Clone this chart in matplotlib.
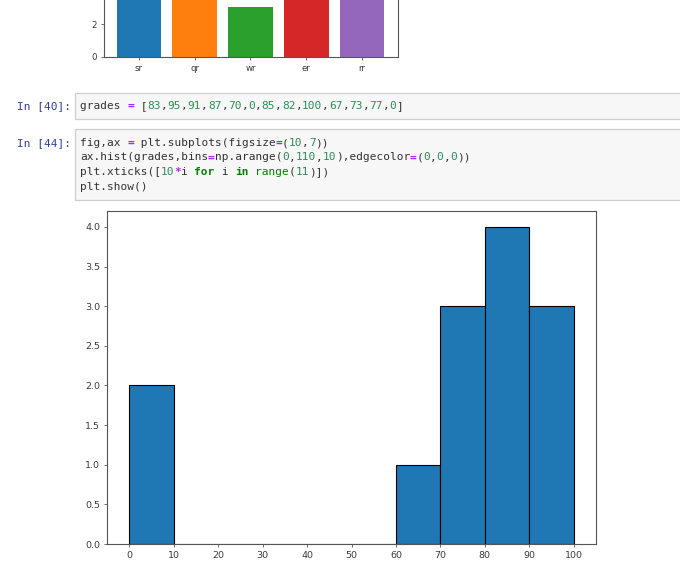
import numpy as np
import matplotlib
matplotlib.use("Agg")
import matplotlib.pyplot as plt
from matplotlib.patches import Rectangle

W, H = 680, 567

# top chart, cut off by the edge of the screenshot
names = ["sr", "qr", "wr", "er", "rr"]
heights = [4, 4, 3, 4, 4]
colors = ["#1f77b4", "#ff7f0e", "#2ca02c", "#d62728", "#9467bd"]

grades = [83, 95, 91, 87, 70, 0, 85, 82, 100, 67, 73, 77, 0]
bins = np.arange(0, 110, 10)

NORMAL = "#333333"
NUM = "#2e8b57"
OP = "#aa22ff"
KW = "#008000"

# notebook code, one list of (text, colour) per line
code_40 = [[("grades ", NORMAL), ("=", OP), (" [", NORMAL), ("83", NUM), (",", NORMAL), ("95", NUM), (",", NORMAL),
            ("91", NUM), (",", NORMAL), ("87", NUM), (",", NORMAL), ("70", NUM), (",", NORMAL), ("0", NUM), (",", NORMAL),
            ("85", NUM), (",", NORMAL), ("82", NUM), (",", NORMAL), ("100", NUM), (",", NORMAL), ("67", NUM), (",", NORMAL),
            ("73", NUM), (",", NORMAL), ("77", NUM), (",", NORMAL), ("0", NUM), ("]", NORMAL)]]
code_44 = [
    [("fig,ax ", NORMAL), ("=", OP), (" plt.subplots(figsize", NORMAL), ("=", OP), ("(", NORMAL), ("10", NUM),
     (",", NORMAL), ("7", NUM), ("))", NORMAL)],
    [("ax.hist(grades,bins", NORMAL), ("=", OP), ("np.arange(", NORMAL), ("0", NUM), (",", NORMAL), ("110", NUM),
     (",", NORMAL), ("10", NUM), ("),edgecolor", NORMAL), ("=", OP), ("(", NORMAL), ("0", NUM), (",", NORMAL), ("0", NUM),
     (",", NORMAL), ("0", NUM), ("))", NORMAL)],
    [("plt.xticks([", NORMAL), ("10", NUM), ("*", OP), ("i ", NORMAL), ("for", KW), (" i ", NORMAL), ("in", KW), (" ", NORMAL),
     ("range", KW), ("(", NORMAL), ("11", NUM), (")])", NORMAL)],
    [("plt.show()", NORMAL)],
]


def px_axes(fig, left, top, right, bottom):
    return fig.add_axes([left / W, 1 - bottom / H, (right - left) / W, (bottom - top) / H])


def draw_code(lines, y0):
    char_w = 6.73
    for n, line in enumerate(lines):
        col = 0
        for txt, c in line:
            bold = txt in ("for", "in", "=", "*")
            fig.text((80 + col * char_w) / W, 1 - (y0 + n * 14.5) / H, txt, color=c, family="DejaVu Sans Mono",
                     fontsize=8, va="center", ha="left", fontweight="bold" if bold else "normal")
            col += len(txt)


def style(ax):
    for s in ax.spines.values():
        s.set_color("#555555")
        s.set_linewidth(0.8)
    ax.tick_params(labelsize=6.8, length=2.5, width=0.6, pad=2.5, color="#555555", labelcolor="#3a3a3a")


fig = plt.figure(figsize=(W / 100, H / 100), dpi=100)

# code cells
for top, bottom in [(93, 119), (129, 200)]:
    fig.patches.append(Rectangle((75 / W, 1 - bottom / H), 620 / W, (bottom - top) / H, transform=fig.transFigure,
                                 facecolor="#f7f7f7", edgecolor="#cfcfcf", linewidth=0.9))

for y, label in [(106, "In [40]:"), (143, "In [44]:")]:
    fig.text(17 / W, 1 - y / H, label, color="#303f9f", family="DejaVu Sans Mono", fontsize=8, va="center")

draw_code(code_40, 106)
draw_code(code_44, 143)

# bar chart, top part is off the figure
ax1 = px_axes(fig, 104, -43, 398, 57)
ax1.bar(names, heights, color=colors)
ax1.set_xlim(-0.628, 4.646)
ax1.set_ylim(0, 100 / 16.5)
ax1.set_yticks([0, 2])
style(ax1)
ax1.tick_params(labelsize=6.2)

# histogram
ax2 = px_axes(fig, 107, 211, 596, 544)
ax2.hist(grades, bins=bins, edgecolor=(0, 0, 0), linewidth=0.8)
ax2.set_xticks([10 * i for i in range(11)])
style(ax2)

fig.savefig("out.png", dpi=100)
